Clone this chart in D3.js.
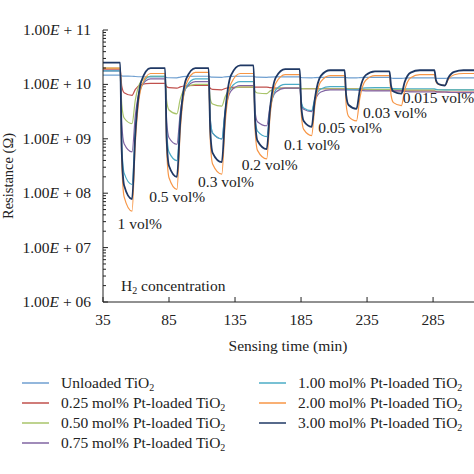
<!DOCTYPE html>
<html><head><meta charset="utf-8">
<script src="https://cdn.jsdelivr.net/npm/d3@7"></script>
<style>body{margin:0;background:#fff}svg{font-family:"Liberation Serif","DejaVu Serif",serif}</style>
</head><body><svg id="c" width="474" height="474"></svg>
<script>
// pulse timing (min)
const pulseOn = [48, 82, 115, 149, 184, 218, 252, 286];
const pulseOff = [57, 91, 125, 159, 193, 227, 261, 294];
const pulseLabels = ["1 vol%", "0.5 vol%", "0.3 vol%", "0.2 vol%", "0.1 vol%", "0.05 vol%", "0.03 vol%", "0.015 vol%"];
// label anchor positions (time, log10 R)
const labelT = [46, 70, 107, 140, 172, 198, 232, 262];
const labelLog = [7.35, 7.84, 8.12, 8.43, 8.80, 9.10, 9.39, 9.65];

const seriesNames = ["Unloaded TiO", "0.25 mol% Pt-loaded TiO", "0.50 mol% Pt-loaded TiO", "0.75 mol% Pt-loaded TiO",
  "1.00 mol% Pt-loaded TiO", "2.00 mol% Pt-loaded TiO", "3.00 mol% Pt-loaded TiO"];
const seriesColors = ["#6f9fd0", "#c0504d", "#a9c46a", "#8064a2", "#4bacc6", "#f79646", "#1f3864"];
// log10 resistance baseline before each pulse, and minimum in each pulse
const baseLog = [
  [10.17, 10.14, 10.15, 10.15, 10.14, 10.13, 10.13, 10.12, 10.12],
  [10.28, 10.02, 9.98, 9.95, 9.93, 9.92, 9.9, 9.88, 9.86],
  [10.3, 10.15, 10.0, 9.95, 9.93, 9.92, 9.91, 9.9, 9.9],
  [10.25, 10.1, 10.05, 9.98, 9.93, 9.9, 9.88, 9.86, 9.85],
  [10.25, 10.15, 10.1, 10.05, 10.0, 9.96, 9.94, 9.92, 9.9],
  [10.3, 10.2, 10.22, 10.2, 10.18, 10.16, 10.16, 10.18, 10.2],
  [10.4, 10.3, 10.3, 10.35, 10.28, 10.26, 10.24, 10.26, 10.26]
];
const minLog = [
  [10.15, 10.12, 10.13, 10.13, 10.12, 10.12, 10.11, 10.11],
  [9.8, 9.93, 9.9, 9.95, 9.92, 9.92, 9.88, 9.86],
  [9.28, 9.46, 9.6, 9.83, 9.92, 9.92, 9.91, 9.9],
  [8.76, 8.9, 9.0, 9.24, 9.5, 9.9, 9.88, 9.86],
  [8.16, 8.6, 9.0, 9.04, 9.52, 9.9, 9.92, 9.9],
  [7.67, 8.07, 8.35, 8.63, 9.06, 9.33, 9.61, 9.98],
  [7.89, 8.3, 8.57, 8.81, 9.22, 9.55, 9.83, 9.98]
];
const xTicks = [35, 85, 135, 185, 235, 285];
const yTicks = [6, 7, 8, 9, 10, 11];

const svg = d3.select("#c");
const fs = 15.5;
const m = { left: 103, right: 474, top: 30, bottom: 302 };
const x = d3.scaleLinear().domain([35, 316]).range([m.left, m.right]);
const y = d3.scaleLinear().domain([6, 11]).range([m.bottom, m.top]);

// build trace keypoints from baseline/minimum tables
function trace(s) {
  const pts = [[35, baseLog[s][0]]];
  pulseOn.forEach((on, i) => {
    const b = baseLog[s][i], mn = minLog[s][i], nb = baseLog[s][i + 1], off = pulseOff[i];
    pts.push([on - 1, b], [on, b]);
    pts.push([on + 1.2, mn + 0.35 * (b - mn)]);
    pts.push([on + 3, mn + 0.1 * (b - mn)]);
    pts.push([off, mn]);
    pts.push([off + 2.5, mn + 0.5 * (nb - mn)]);
    pts.push([off + 7, nb - 0.1 * (nb - mn)]);
    pts.push([off + 14, nb]);
  });
  pts.push([316, baseLog[s][8]]);
  return pts.filter(p => p[0] <= 316).sort((a, b) => a[0] - b[0]);
}
const line = d3.line().x(d => x(d[0])).y(d => y(d[1])).curve(d3.curveMonotoneX);
svg.append("defs").append("clipPath").attr("id", "clip").append("rect")
  .attr("x", m.left).attr("y", m.top).attr("width", m.right - m.left).attr("height", m.bottom - m.top);
const g = svg.append("g").attr("clip-path", "url(#clip)");
seriesColors.forEach((c, s) => {
  g.append("path").attr("d", line(trace(s))).attr("fill", "none")
    .attr("stroke", c).attr("stroke-width", s === 6 ? 1.8 : 1.2);
});

// axes
svg.append("line").attr("x1", m.left).attr("x2", m.left).attr("y1", m.top).attr("y2", m.bottom).attr("stroke", "#222");
svg.append("line").attr("x1", m.left).attr("x2", m.right).attr("y1", m.bottom).attr("y2", m.bottom).attr("stroke", "#222");
yTicks.forEach(t => {
  svg.append("line").attr("x1", m.left).attr("x2", m.left + 5).attr("y1", y(t)).attr("y2", y(t)).attr("stroke", "#222");
  if (t < 11) d3.range(2, 10).forEach(k => {
    const yy = y(t + Math.log10(k));
    svg.append("line").attr("x1", m.left).attr("x2", m.left + 3).attr("y1", yy).attr("y2", yy).attr("stroke", "#222");
  });
  const tx = svg.append("text").attr("x", m.left - 12).attr("y", y(t) + 5).attr("text-anchor", "end")
    .attr("font-size", fs).attr("fill", "#222");
  tx.append("tspan").text("1.00");
  tx.append("tspan").attr("font-style", "italic").text("E");
  tx.append("tspan").text(" + " + (t < 10 ? "0" + t : t));
});
xTicks.forEach(t => {
  svg.append("line").attr("x1", x(t)).attr("x2", x(t)).attr("y1", m.bottom).attr("y2", m.bottom - 5).attr("stroke", "#222");
  svg.append("text").attr("x", x(t)).attr("y", 325).attr("text-anchor", "middle").attr("font-size", fs)
    .attr("fill", "#222").text(t);
});
svg.append("text").attr("x", 288).attr("y", 351).attr("text-anchor", "middle").attr("font-size", fs)
  .attr("fill", "#222").text("Sensing time (min)");
svg.append("text").attr("transform", `translate(13,${(m.top + m.bottom) / 2 + 10}) rotate(-90)`)
  .attr("text-anchor", "middle").attr("font-size", fs - 1).attr("fill", "#222").text("Resistance (Ω)");

// pulse labels
pulseLabels.forEach((l, i) => {
  svg.append("text").attr("x", x(labelT[i])).attr("y", y(labelLog[i])).attr("font-size", fs)
    .attr("fill", "#222").text(l);
});
const h2 = svg.append("text").attr("x", 121).attr("y", 291).attr("font-size", fs).attr("fill", "#222");
h2.append("tspan").text("H");
h2.append("tspan").attr("font-size", 10).attr("dy", 3).text("2");
h2.append("tspan").attr("dy", -3).text(" concentration");

// legend
seriesNames.forEach((n, i) => {
  const col = i < 4 ? 0 : 1, row = i < 4 ? i : i - 4;
  const lx = col ? 259 : 22, ly = 383 + row * 20;
  svg.append("line").attr("x1", lx).attr("x2", lx + 27).attr("y1", ly).attr("y2", ly)
    .attr("stroke", seriesColors[i]).attr("stroke-width", 1.5);
  const t = svg.append("text").attr("x", lx + 39).attr("y", ly + 5).attr("font-size", fs).attr("fill", "#222");
  t.append("tspan").text(n);
  t.append("tspan").attr("font-size", 10).attr("dy", 3).text("2");
});
</script></body></html>
